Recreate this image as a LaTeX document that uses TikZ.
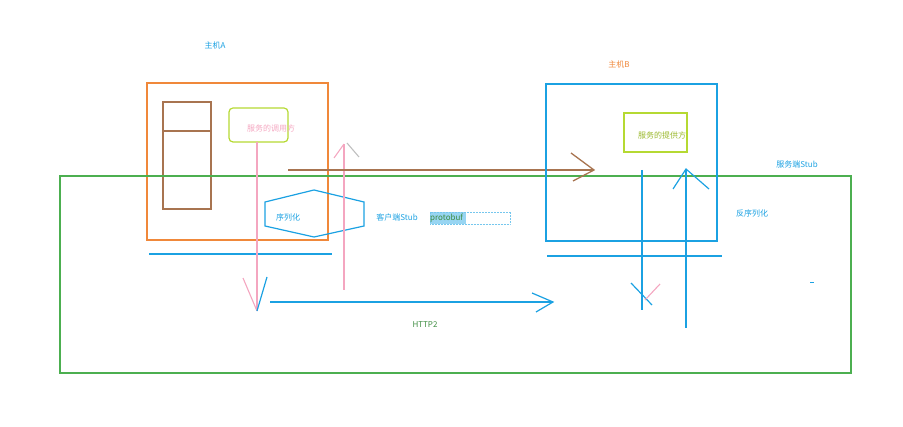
\documentclass[tikz,border=0pt]{standalone}
\usepackage{fontspec}
\newfontfamily\cjk{Noto Sans CJK SC}
\begin{document}
\begin{tikzpicture}[x=1pt,y=-1pt,font=\cjk\fontsize{8}{9}\selectfont,
  lbl/.style={inner sep=0pt}]
\definecolor{myblue}{HTML}{1BA1E2}
\definecolor{myorange}{HTML}{F0883A}
\definecolor{mybrown}{HTML}{A87450}
\definecolor{mylime}{HTML}{B5D932}
\definecolor{mygreen}{HTML}{4CAF50}
\definecolor{mypink}{HTML}{F4A6C0}
\useasboundingbox (0,0) rectangle (903,427);
\tikzset{bl/.style={draw=myblue,line width=1.2pt},pk/.style={draw=mypink,line width=1.1pt}}
\node[lbl,text=myblue] (ta) at (215,45) {主机A};
\draw[myorange,line width=1.2pt] (147,83) rectangle (328,240);
\draw[mybrown,line width=1.2pt] (163,102) rectangle (211,209);
\draw[mybrown,line width=1.2pt] (163,131) -- (211,131);
\draw[mylime,line width=1.2pt,rounded corners=4pt] (229,108) rectangle (288,142);
\node[lbl,text=mypink] (caller) at (271,128) {服务的调用方};
\draw[mygreen,line width=1.2pt] (60,176) rectangle (851,373);
\draw[bl] (265,202) -- (314,190) -- (364,202) -- (364,226) -- (314,237) -- (265,226) -- cycle;
\node[lbl,text=myblue] (ser) at (288,217) {序列化};
\node[lbl,text=myblue] (cs) at (397,217) {客户端Stub};
\fill[myblue!45] (430,212) rectangle (466,224);
\draw[myblue!60,densely dotted,line width=0.5pt] (430,212) rectangle (510,224);
\node[lbl,text=mygreen!80!black,anchor=west] (pb) at (430,218) {protobuf};
\draw[bl] (149,254) -- (332,254);
\draw[pk] (257,142) -- (257,311);
\draw[pk] (243,278) -- (257,311);
\draw[bl] (257,311) -- (267,277);
\draw[pk] (344,290) -- (344,144);
\draw[pk] (334,158) -- (344,144);
\draw[gray!50,line width=1.1pt] (347,143) -- (359,157);
\draw[mybrown,line width=1.3pt] (288,170) -- (594,170);
\draw[mybrown,line width=1.3pt] (571,153) -- (594,170) -- (573,181);
\draw[bl] (270,302) -- (553,302);
\draw[bl] (532,293) -- (553,302) -- (536,312);
\node[lbl,text=mygreen!80!black] (http) at (425,325) {HTTP2};
\node[lbl,text=myorange] (tb) at (619,64) {主机B};
\draw[bl] (546,84) rectangle (717,241);
\draw[mylime,line width=1.2pt] (624,113) rectangle (687,152);
\node[lbl,text=mylime!85!black] (prov) at (662,135) {服务的提供方};
\node[lbl,text=myblue] (ss) at (797,164) {服务端Stub};
\node[lbl,text=myblue] (des) at (752,213) {反序列化};
\draw[bl] (547,256) -- (722,256);
\draw[bl] (642,170) -- (642,310);
\draw[bl] (631,283) -- (652,305);
\draw[pk] (645,300) -- (660,284);
\draw[bl] (686,328) -- (686,169);
\draw[bl] (673,189) -- (686,169) -- (709,189);
\draw[myblue,line width=1pt] (810,283) -- (814,283);
\end{tikzpicture}
\end{document}
